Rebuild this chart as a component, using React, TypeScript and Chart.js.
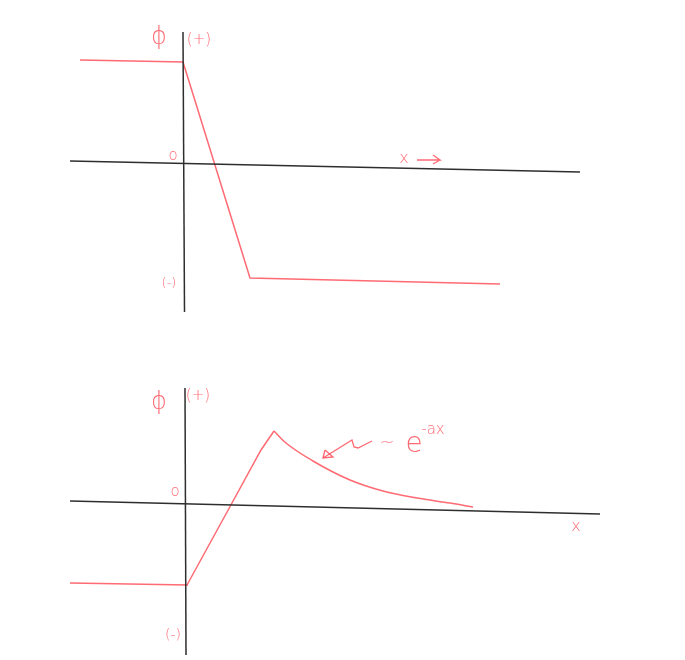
import { useEffect, useRef } from 'react'
import { Chart, registerables } from 'chart.js'
Chart.register(...registerables)

type Pt = { x: number; y: number }

// --- top sketch: step-like potential (phi vs x) ---
const topAxisX: Pt[] = [{ x: -1.13, y: 0.02 }, { x: 3.97, y: -0.09 }]
const topAxisY: Pt[] = [{ x: 0, y: 1.31 }, { x: 0.015, y: -1.49 }]
const topPhi: Pt[] = [
  { x: -1.03, y: 1.03 }, { x: 0, y: 1.01 }, { x: 0.67, y: -1.15 }, { x: 3.17, y: -1.21 },
]
const topArrow: Pt[] = [
  { x: 2.34, y: 0.03 }, { x: 2.57, y: 0.03 }, { x: 2.5, y: 0.08 },
  { x: 2.57, y: 0.03 }, { x: 2.5, y: -0.01 },
]

// --- bottom sketch: phi with exponential tail ---
const botAxisX: Pt[] = [{ x: -1.16, y: 0.02 }, { x: 4.14, y: -0.11 }]
const botAxisY: Pt[] = [{ x: -0.01, y: 1.15 }, { x: 0, y: -1.52 }]
const botLeft: Pt[] = [{ x: -1.16, y: -0.8 }, { x: 0.02, y: -0.82 }]
const botRise: Pt[] = [
  { x: 0.01, y: -0.82 }, { x: 0.46, y: 0.0 }, { x: 0.75, y: 0.53 }, { x: 0.88, y: 0.72 },
]
const botDecay: Pt[] = [
  { x: 0.88, y: 0.72 }, { x: 1.0, y: 0.6 }, { x: 1.27, y: 0.42 },
  { x: 1.64, y: 0.23 }, { x: 1.97, y: 0.12 }, { x: 2.31, y: 0.05 }, { x: 2.64, y: 0.0 },
  { x: 2.87, y: -0.04 },
]
const botSquiggle: Pt[] = [
  { x: 1.86, y: 0.62 }, { x: 1.72, y: 0.55 }, { x: 1.68, y: 0.56 }, { x: 1.66, y: 0.63 },
  { x: 1.37, y: 0.45 },
]
const botArrowHead: Pt[] = [
  { x: 1.39, y: 0.53 }, { x: 1.37, y: 0.45 }, { x: 1.47, y: 0.46 }, { x: 1.39, y: 0.53 },
]

type Note = { t: string; x: number; y: number; size: number }
const topNotes: Note[] = [
  { t: 'ϕ', x: -0.24, y: 1.25, size: 24 },
  { t: '(+)', x: 0.16, y: 1.23, size: 15 },
  { t: 'o', x: -0.1, y: 0.07, size: 15 },
  { t: '(-)', x: -0.14, y: -1.21, size: 13 },
  { t: 'x', x: 2.21, y: 0.04, size: 16 },
]
const botNotes: Note[] = [
  { t: 'ϕ', x: -0.27, y: 1.0, size: 24 },
  { t: '(+)', x: 0.12, y: 1.07, size: 15 },
  { t: 'o', x: -0.11, y: 0.11, size: 15 },
  { t: '(-)', x: -0.13, y: -1.32, size: 14 },
  { t: 'x', x: 3.9, y: -0.24, size: 16 },
  { t: '~', x: 2.01, y: 0.6, size: 18 },
  { t: 'e', x: 2.28, y: 0.58, size: 28 },
  { t: '-ax', x: 2.47, y: 0.73, size: 15 },
]

const RED = 'rgba(255,80,90,0.85)'
const INK = '#2e2e2e'

const line = (data: Pt[], color: string, width: number, tension = 0) => ({
  data, borderColor: color, borderWidth: width, showLine: true,
  pointRadius: 0, tension, fill: false,
})

function Sketch({ height, datasets, notes, xMin, xMax, yMin, yMax }: {
  height: number; datasets: any[]; notes: Note[]
  xMin: number; xMax: number; yMin: number; yMax: number
}) {
  const ref = useRef<HTMLCanvasElement>(null)
  useEffect(() => {
    if (!ref.current) return
    const chart = new Chart(ref.current, {
      type: 'scatter',
      data: { datasets },
      options: {
        responsive: false, animation: false,
        layout: { padding: 0 },
        plugins: { legend: { display: false }, tooltip: { enabled: false } },
        scales: {
          x: { type: 'linear', min: xMin, max: xMax, display: false },
          y: { type: 'linear', min: yMin, max: yMax, display: false },
        },
      },
      plugins: [{
        id: 'notes',
        afterDatasetsDraw(c) {
          const ctx = c.ctx
          ctx.save()
          ctx.fillStyle = RED
          ctx.textAlign = 'center'
          ctx.textBaseline = 'middle'
          notes.forEach(n => {
            ctx.font = `200 ${n.size}px "DejaVu Sans"`
            ctx.fillText(n.t, c.scales.x.getPixelForValue(n.x), c.scales.y.getPixelForValue(n.y))
          })
          ctx.restore()
        },
      }],
    })
    return () => chart.destroy()
  }, [])
  return <canvas ref={ref} width={685} height={height} style={{ display: 'block' }} />
}

export default function App() {
  return (
    <div style={{ position: 'absolute', top: 0, left: 0, width: 685, height: 660, background: '#fff' }}>
      <Sketch
        height={340} xMin={-1.83} xMax={5.02} yMin={-1.77} yMax={1.63}
        notes={topNotes}
        datasets={[
          line(topAxisX, INK, 1.5),
          line(topAxisY, INK, 1.5),
          line(topPhi, RED, 1.5),
          line(topArrow, RED, 1.3),
        ]}
      />
      <Sketch
        height={320} xMin={-1.86} xMax={4.99} yMin={-1.57} yMax={1.63}
        notes={botNotes}
        datasets={[
          line(botAxisX, INK, 1.5),
          line(botAxisY, INK, 1.5),
          line(botLeft, RED, 1.5),
          line(botRise, RED, 1.5),
          { ...line(botDecay, RED, 1.5, 0.4), cubicInterpolationMode: 'monotone' },
          line(botSquiggle, RED, 1.3),
          line(botArrowHead, RED, 1.3),
        ]}
      />
    </div>
  )
}
